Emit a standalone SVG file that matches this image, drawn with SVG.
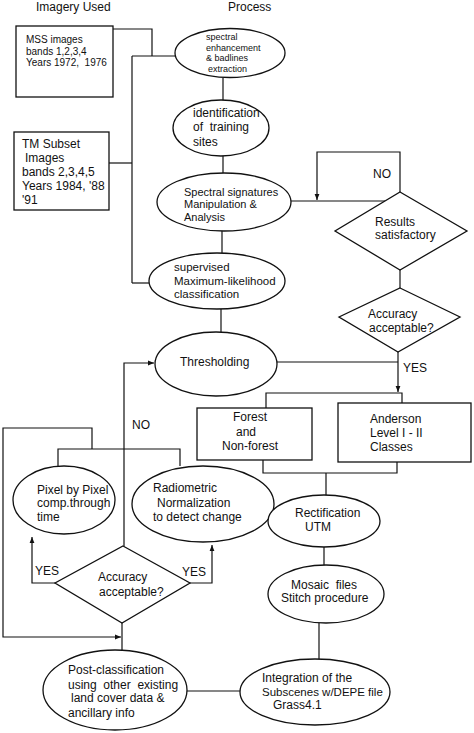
<svg xmlns="http://www.w3.org/2000/svg" width="474" height="733" viewBox="0 0 474 733">
<style>
.n{fill:#fff;stroke:#111;stroke-width:1.3}
.c{fill:none;stroke:#111;stroke-width:1.2}
text{font-family:"Liberation Sans",Arial,sans-serif;font-size:12px;fill:#111;white-space:pre}
.s9{font-size:9px}
.s10{font-size:10px}
.s11{font-size:11px}
.s115{font-size:11.5px}
</style>
<defs>
<marker id="ah" viewBox="0 0 10 10" refX="10" refY="5" markerWidth="6" markerHeight="6" orient="auto" markerUnits="userSpaceOnUse">
<path d="M0,1 L10,5 L0,9 Z" fill="#111"/>
</marker>
</defs>
<rect width="474" height="733" fill="#fff"/>
<g id="headers">
<text x="36" y="11">Imagery Used</text>
<text x="228" y="11">Process</text>
</g>
<g id="connectors">
<polyline class="c" points="113,29 152,29 152,56"/>
<line class="c" x1="132" y1="56" x2="176" y2="56"/>
<line class="c" x1="132" y1="56" x2="132" y2="283"/>
<line class="c" x1="109" y1="163" x2="132" y2="163"/>
<line class="c" x1="132" y1="283" x2="149" y2="283"/>
<line class="c" x1="223" y1="78" x2="223" y2="100"/>
<line class="c" x1="223" y1="156" x2="223" y2="173"/>
<line class="c" x1="222" y1="231" x2="222" y2="253"/>
<line class="c" x1="221" y1="309" x2="221" y2="332"/>
<line class="c" x1="291" y1="201" x2="385" y2="201"/>
<polyline class="c" points="400,192 400,152 317,152 317,200" marker-end="url(#ah)"/>
<line class="c" x1="400" y1="270" x2="400" y2="288"/>
<line class="c" x1="277" y1="362" x2="398" y2="362"/>
<polyline class="c" points="398,352 398,392" marker-end="url(#ah)"/>
<polyline class="c" points="266,408 266,393 402,393 402,403"/>
<polyline class="c" points="263,460 263,473 397,473 397,462"/>
<line class="c" x1="326" y1="473" x2="326" y2="495"/>
<line class="c" x1="324" y1="547" x2="324" y2="565"/>
<line class="c" x1="319" y1="623" x2="319" y2="659"/>
<line class="c" x1="187" y1="691" x2="240" y2="691"/>
<polyline class="c" points="124,546 124,363 154,363" marker-end="url(#ah)"/>
<polyline class="c" points="58,466 58,449 180,449 180,466"/>
<polyline class="c" points="92,449 92,428 3,428 3,637 121,637" marker-end="url(#ah)"/>
<polyline class="c" points="55,583 32,583 32,537" marker-end="url(#ah)"/>
<polyline class="c" points="190,583 212,583 212,545" marker-end="url(#ah)"/>
<line class="c" x1="122" y1="623" x2="122" y2="650"/>
</g>
<g id="mss">
<rect class="n" x="16" y="26" width="97" height="71"/>
<text class="s10" x="26" y="43">MSS images</text>
<text class="s10" x="26" y="55">bands 1,2,3,4</text>
<text class="s10" x="26" y="66">Years 1972,  1976</text>
</g>
<g id="tm">
<rect class="n" x="14" y="132" width="95" height="78"/>
<text x="22" y="148">TM Subset</text>
<text x="25" y="162">Images</text>
<text x="22" y="176">bands 2,3,4,5</text>
<text x="22" y="190">Years 1984, '88</text>
<text x="22" y="204">'91</text>
</g>
<g id="enhance">
<ellipse class="n" cx="230" cy="53" rx="55" ry="24.5"/>
<text class="s9" x="206" y="40">spectral</text>
<text class="s9" x="206" y="51">enhancement</text>
<text class="s9" x="206" y="61">&amp; badlines</text>
<text class="s9" x="208" y="72">extraction</text>
</g>
<g id="training">
<ellipse class="n" cx="221" cy="128" rx="48" ry="28"/>
<text x="193" y="117">identification</text>
<text x="193" y="131">of  training</text>
<text x="193" y="146">sites</text>
</g>
<g id="signatures">
<ellipse class="n" cx="224" cy="202" rx="67" ry="29"/>
<text class="s11" x="184" y="196">Spectral signatures</text>
<text class="s11" x="184" y="208">Manipulation &amp;</text>
<text class="s11" x="184" y="221">Analysis</text>
</g>
<g id="supervised">
<ellipse class="n" cx="217" cy="281" rx="68" ry="28"/>
<text class="s115" x="174" y="271">supervised</text>
<text class="s115" x="174" y="285">Maximum-likelihood</text>
<text class="s115" x="174" y="298">classification</text>
</g>
<g id="results">
<polygon class="n" points="400,192 467,231 400,270 335,231"/>
<text x="375" y="226">Results</text>
<text x="375" y="239">satisfactory</text>
</g>
<g id="accuracy-right">
<polygon class="n" points="400,288 460,317 398,352 339,317"/>
<text x="368" y="318">Accuracy</text>
<text x="369" y="332">acceptable?</text>
</g>
<g id="labels">
<text x="373" y="178">NO</text>
<text x="403" y="372">YES</text>
<text x="132" y="429">NO</text>
<text x="35" y="575">YES</text>
<text x="182" y="576">YES</text>
</g>
<g id="thresholding">
<ellipse class="n" cx="216" cy="364" rx="61" ry="32"/>
<text x="180" y="366">Thresholding</text>
</g>
<g id="forest">
<rect class="n" x="197" y="408" width="115" height="52"/>
<text x="250" y="421" text-anchor="middle">Forest</text>
<text x="246" y="436" text-anchor="middle">and</text>
<text x="250" y="450" text-anchor="middle">Non-forest</text>
</g>
<g id="anderson">
<rect class="n" x="338" y="403" width="133" height="59"/>
<text x="370" y="423">Anderson</text>
<text x="370" y="437">Level I - II</text>
<text x="370" y="451">Classes</text>
</g>
<g id="pixel">
<ellipse class="n" cx="64" cy="500" rx="51" ry="34"/>
<text x="37" y="494">Pixel by Pixel</text>
<text x="37" y="507">comp.through</text>
<text x="37" y="521">time</text>
</g>
<g id="radiometric">
<ellipse class="n" cx="203" cy="504" rx="71" ry="38"/>
<text x="153" y="492">Radiometric</text>
<text x="157" y="507">Normalization</text>
<text x="153" y="521">to detect change</text>
</g>
<g id="accuracy-left">
<polygon class="n" points="123,546 190,583 122,623 55,583"/>
<text x="98" y="581">Accuracy</text>
<text x="99" y="596">acceptable?</text>
</g>
<g id="rectification">
<ellipse class="n" cx="324" cy="521" rx="56" ry="26"/>
<text x="295" y="517">Rectification</text>
<text x="305" y="531">UTM</text>
</g>
<g id="mosaic">
<ellipse class="n" cx="326" cy="594" rx="58" ry="29"/>
<text x="291" y="589">Mosaic  files</text>
<text x="281" y="602">Stitch procedure</text>
</g>
<g id="postclass">
<ellipse class="n" cx="115" cy="690" rx="72" ry="40"/>
<text x="68" y="674">Post-classification</text>
<text x="68" y="689">using  other  existing</text>
<text x="71" y="702">land cover data &amp;</text>
<text x="68" y="717">ancillary info</text>
</g>
<g id="integration">
<ellipse class="n" cx="315" cy="692" rx="75" ry="33"/>
<text x="262" y="682">Integration of the</text>
<text class="s115" x="262" y="696">Subscenes w/DEPE file</text>
<text x="273" y="709">Grass4.1</text>
</g>
</svg>
